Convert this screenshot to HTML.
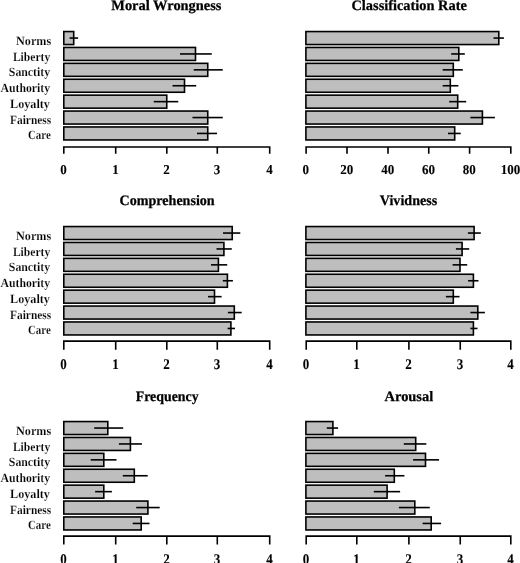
<!DOCTYPE html>
<html><head><meta charset="utf-8"><title>Figure</title>
<style>html,body{margin:0;padding:0;background:#fff}svg{display:block}text{font-family:"Liberation Serif","Times New Roman",serif;font-weight:bold;text-rendering:geometricPrecision;fill:#000;stroke:#fff;stroke-width:0.16px}text.t{stroke:#000;stroke-width:0.25px}text.n{stroke:#000;stroke-width:0.1px}</style></head><body>
<svg width="520" height="563" viewBox="0 0 520 563">
<rect width="520" height="563" fill="#fff"/>
<g>
<text class="t" x="111.30" y="9.60" font-size="14.4" textLength="110.20" lengthAdjust="spacingAndGlyphs">Moral Wrongness</text>
<rect x="63.80" y="31.55" width="9.90" height="13.00" fill="#bebebe" stroke="#000" stroke-width="1.6"/>
<line x1="69.60" y1="38.05" x2="78.10" y2="38.05" stroke="#000" stroke-width="1.6"/>
<text x="16.05" y="44.70" font-size="12.6" textLength="35.15" lengthAdjust="spacingAndGlyphs">Norms</text>
<rect x="63.80" y="47.45" width="131.70" height="13.00" fill="#bebebe" stroke="#000" stroke-width="1.6"/>
<line x1="180.00" y1="53.95" x2="211.75" y2="53.95" stroke="#000" stroke-width="1.6"/>
<text x="12.90" y="60.60" font-size="12.6" textLength="37.30" lengthAdjust="spacingAndGlyphs">Liberty</text>
<rect x="63.80" y="63.35" width="143.95" height="13.00" fill="#bebebe" stroke="#000" stroke-width="1.6"/>
<line x1="193.75" y1="69.85" x2="222.75" y2="69.85" stroke="#000" stroke-width="1.6"/>
<text x="8.80" y="76.20" font-size="12.6" textLength="41.40" lengthAdjust="spacingAndGlyphs">Sanctity</text>
<rect x="63.80" y="79.25" width="120.70" height="13.00" fill="#bebebe" stroke="#000" stroke-width="1.6"/>
<line x1="172.50" y1="85.75" x2="196.25" y2="85.75" stroke="#000" stroke-width="1.6"/>
<text x="0.40" y="91.80" font-size="12.6" textLength="49.80" lengthAdjust="spacingAndGlyphs">Authority</text>
<rect x="63.80" y="95.15" width="102.95" height="13.00" fill="#bebebe" stroke="#000" stroke-width="1.6"/>
<line x1="153.75" y1="101.65" x2="178.25" y2="101.65" stroke="#000" stroke-width="1.6"/>
<text x="10.05" y="108.10" font-size="12.6" textLength="39.90" lengthAdjust="spacingAndGlyphs">Loyalty</text>
<rect x="63.80" y="111.05" width="143.95" height="13.00" fill="#bebebe" stroke="#000" stroke-width="1.6"/>
<line x1="192.50" y1="117.55" x2="222.75" y2="117.55" stroke="#000" stroke-width="1.6"/>
<text x="10.05" y="123.50" font-size="12.6" textLength="41.15" lengthAdjust="spacingAndGlyphs">Fairness</text>
<rect x="63.80" y="126.95" width="143.95" height="13.00" fill="#bebebe" stroke="#000" stroke-width="1.6"/>
<line x1="197.00" y1="133.45" x2="217.00" y2="133.45" stroke="#000" stroke-width="1.6"/>
<text x="27.90" y="138.80" font-size="12.6" textLength="22.90" lengthAdjust="spacingAndGlyphs">Care</text>
<path d="M63.80 153.85V147.00H269.70V153.85M115.70 147.00V153.85M166.80 147.00V153.85M217.30 147.00V153.85" fill="none" stroke="#000" stroke-width="1.6" stroke-linejoin="miter"/>
<text class="n" x="60.25" y="173.60" font-size="13.6" textLength="6.50" lengthAdjust="spacingAndGlyphs">0</text>
<text class="n" x="112.15" y="173.60" font-size="13.6" textLength="6.50" lengthAdjust="spacingAndGlyphs">1</text>
<text class="n" x="163.25" y="173.60" font-size="13.6" textLength="6.50" lengthAdjust="spacingAndGlyphs">2</text>
<text class="n" x="213.75" y="173.60" font-size="13.6" textLength="6.50" lengthAdjust="spacingAndGlyphs">3</text>
<text class="n" x="266.15" y="173.60" font-size="13.6" textLength="6.50" lengthAdjust="spacingAndGlyphs">4</text>
</g>
<g>
<text class="t" x="351.50" y="9.60" font-size="14.4" textLength="115.30" lengthAdjust="spacingAndGlyphs">Classification Rate</text>
<rect x="305.90" y="31.55" width="192.90" height="13.00" fill="#bebebe" stroke="#000" stroke-width="1.6"/>
<line x1="493.50" y1="38.05" x2="503.90" y2="38.05" stroke="#000" stroke-width="1.6"/>
<rect x="305.90" y="47.45" width="152.90" height="13.00" fill="#bebebe" stroke="#000" stroke-width="1.6"/>
<line x1="451.20" y1="53.95" x2="464.80" y2="53.95" stroke="#000" stroke-width="1.6"/>
<rect x="305.90" y="63.35" width="147.40" height="13.00" fill="#bebebe" stroke="#000" stroke-width="1.6"/>
<line x1="442.70" y1="69.85" x2="462.80" y2="69.85" stroke="#000" stroke-width="1.6"/>
<rect x="305.90" y="79.25" width="144.40" height="13.00" fill="#bebebe" stroke="#000" stroke-width="1.6"/>
<line x1="442.70" y1="85.75" x2="458.40" y2="85.75" stroke="#000" stroke-width="1.6"/>
<rect x="305.90" y="95.15" width="151.80" height="13.00" fill="#bebebe" stroke="#000" stroke-width="1.6"/>
<line x1="449.20" y1="101.65" x2="466.20" y2="101.65" stroke="#000" stroke-width="1.6"/>
<rect x="305.90" y="111.05" width="176.50" height="13.00" fill="#bebebe" stroke="#000" stroke-width="1.6"/>
<line x1="470.40" y1="117.55" x2="494.90" y2="117.55" stroke="#000" stroke-width="1.6"/>
<rect x="305.90" y="126.95" width="148.80" height="13.00" fill="#bebebe" stroke="#000" stroke-width="1.6"/>
<line x1="448.00" y1="133.45" x2="460.70" y2="133.45" stroke="#000" stroke-width="1.6"/>
<path d="M306.10 153.85V147.00H510.80V153.85M347.00 147.00V153.85M388.00 147.00V153.85M428.75 147.00V153.85M469.60 147.00V153.85" fill="none" stroke="#000" stroke-width="1.6" stroke-linejoin="miter"/>
<text class="n" x="302.55" y="173.60" font-size="13.6" textLength="6.50" lengthAdjust="spacingAndGlyphs">0</text>
<text class="n" x="340.20" y="173.60" font-size="13.6" textLength="13.00" lengthAdjust="spacingAndGlyphs">20</text>
<text class="n" x="381.20" y="173.60" font-size="13.6" textLength="13.00" lengthAdjust="spacingAndGlyphs">40</text>
<text class="n" x="421.95" y="173.60" font-size="13.6" textLength="13.00" lengthAdjust="spacingAndGlyphs">60</text>
<text class="n" x="462.80" y="173.60" font-size="13.6" textLength="13.00" lengthAdjust="spacingAndGlyphs">80</text>
<text class="n" x="500.75" y="173.60" font-size="13.6" textLength="19.50" lengthAdjust="spacingAndGlyphs">100</text>
</g>
<g>
<text class="t" x="119.60" y="204.60" font-size="14.4" textLength="95.10" lengthAdjust="spacingAndGlyphs">Comprehension</text>
<rect x="63.80" y="226.55" width="168.40" height="13.00" fill="#bebebe" stroke="#000" stroke-width="1.6"/>
<line x1="223.00" y1="233.05" x2="240.30" y2="233.05" stroke="#000" stroke-width="1.6"/>
<text x="16.05" y="239.70" font-size="12.6" textLength="35.15" lengthAdjust="spacingAndGlyphs">Norms</text>
<rect x="63.80" y="242.45" width="160.10" height="13.00" fill="#bebebe" stroke="#000" stroke-width="1.6"/>
<line x1="216.50" y1="248.95" x2="231.80" y2="248.95" stroke="#000" stroke-width="1.6"/>
<text x="12.90" y="255.60" font-size="12.6" textLength="37.30" lengthAdjust="spacingAndGlyphs">Liberty</text>
<rect x="63.80" y="258.35" width="154.60" height="13.00" fill="#bebebe" stroke="#000" stroke-width="1.6"/>
<line x1="211.00" y1="264.85" x2="227.20" y2="264.85" stroke="#000" stroke-width="1.6"/>
<text x="8.80" y="271.20" font-size="12.6" textLength="41.40" lengthAdjust="spacingAndGlyphs">Sanctity</text>
<rect x="63.80" y="274.25" width="163.60" height="13.00" fill="#bebebe" stroke="#000" stroke-width="1.6"/>
<line x1="222.80" y1="280.75" x2="232.90" y2="280.75" stroke="#000" stroke-width="1.6"/>
<text x="0.40" y="286.80" font-size="12.6" textLength="49.80" lengthAdjust="spacingAndGlyphs">Authority</text>
<rect x="63.80" y="290.15" width="150.70" height="13.00" fill="#bebebe" stroke="#000" stroke-width="1.6"/>
<line x1="208.00" y1="296.65" x2="221.60" y2="296.65" stroke="#000" stroke-width="1.6"/>
<text x="10.05" y="303.10" font-size="12.6" textLength="39.90" lengthAdjust="spacingAndGlyphs">Loyalty</text>
<rect x="63.80" y="306.05" width="170.50" height="13.00" fill="#bebebe" stroke="#000" stroke-width="1.6"/>
<line x1="227.90" y1="312.55" x2="241.70" y2="312.55" stroke="#000" stroke-width="1.6"/>
<text x="10.05" y="318.50" font-size="12.6" textLength="41.15" lengthAdjust="spacingAndGlyphs">Fairness</text>
<rect x="63.80" y="321.95" width="167.10" height="13.00" fill="#bebebe" stroke="#000" stroke-width="1.6"/>
<line x1="227.60" y1="328.45" x2="235.00" y2="328.45" stroke="#000" stroke-width="1.6"/>
<text x="27.90" y="333.80" font-size="12.6" textLength="22.90" lengthAdjust="spacingAndGlyphs">Care</text>
<path d="M63.80 349.85V341.10H269.70V349.85M115.70 341.10V349.85M166.80 341.10V349.85M217.30 341.10V349.85" fill="none" stroke="#000" stroke-width="1.6" stroke-linejoin="miter"/>
<text class="n" x="60.25" y="368.50" font-size="14.8" textLength="6.50" lengthAdjust="spacingAndGlyphs">0</text>
<text class="n" x="112.15" y="368.50" font-size="14.8" textLength="6.50" lengthAdjust="spacingAndGlyphs">1</text>
<text class="n" x="163.25" y="368.50" font-size="14.8" textLength="6.50" lengthAdjust="spacingAndGlyphs">2</text>
<text class="n" x="213.75" y="368.50" font-size="14.8" textLength="6.50" lengthAdjust="spacingAndGlyphs">3</text>
<text class="n" x="266.15" y="368.50" font-size="14.8" textLength="6.50" lengthAdjust="spacingAndGlyphs">4</text>
</g>
<g>
<text class="t" x="379.80" y="204.60" font-size="14.4" textLength="57.40" lengthAdjust="spacingAndGlyphs">Vividness</text>
<rect x="305.90" y="226.55" width="168.20" height="13.00" fill="#bebebe" stroke="#000" stroke-width="1.6"/>
<line x1="467.90" y1="233.05" x2="480.80" y2="233.05" stroke="#000" stroke-width="1.6"/>
<rect x="305.90" y="242.45" width="156.20" height="13.00" fill="#bebebe" stroke="#000" stroke-width="1.6"/>
<line x1="455.90" y1="248.95" x2="469.20" y2="248.95" stroke="#000" stroke-width="1.6"/>
<rect x="305.90" y="258.35" width="154.10" height="13.00" fill="#bebebe" stroke="#000" stroke-width="1.6"/>
<line x1="452.60" y1="264.85" x2="467.20" y2="264.85" stroke="#000" stroke-width="1.6"/>
<rect x="305.90" y="274.25" width="167.50" height="13.00" fill="#bebebe" stroke="#000" stroke-width="1.6"/>
<line x1="468.10" y1="280.75" x2="478.50" y2="280.75" stroke="#000" stroke-width="1.6"/>
<rect x="305.90" y="290.15" width="147.40" height="13.00" fill="#bebebe" stroke="#000" stroke-width="1.6"/>
<line x1="445.90" y1="296.65" x2="459.50" y2="296.65" stroke="#000" stroke-width="1.6"/>
<rect x="305.90" y="306.05" width="171.90" height="13.00" fill="#bebebe" stroke="#000" stroke-width="1.6"/>
<line x1="470.40" y1="312.55" x2="484.90" y2="312.55" stroke="#000" stroke-width="1.6"/>
<rect x="305.90" y="321.95" width="167.50" height="13.00" fill="#bebebe" stroke="#000" stroke-width="1.6"/>
<line x1="470.40" y1="328.45" x2="477.50" y2="328.45" stroke="#000" stroke-width="1.6"/>
<path d="M306.20 349.85V341.10H510.80V349.85M356.80 341.10V349.85M408.90 341.10V349.85M460.25 341.10V349.85" fill="none" stroke="#000" stroke-width="1.6" stroke-linejoin="miter"/>
<text class="n" x="302.65" y="368.50" font-size="14.8" textLength="6.50" lengthAdjust="spacingAndGlyphs">0</text>
<text class="n" x="353.25" y="368.50" font-size="14.8" textLength="6.50" lengthAdjust="spacingAndGlyphs">1</text>
<text class="n" x="405.35" y="368.50" font-size="14.8" textLength="6.50" lengthAdjust="spacingAndGlyphs">2</text>
<text class="n" x="456.70" y="368.50" font-size="14.8" textLength="6.50" lengthAdjust="spacingAndGlyphs">3</text>
<text class="n" x="507.25" y="368.50" font-size="14.8" textLength="6.50" lengthAdjust="spacingAndGlyphs">4</text>
</g>
<g>
<text class="t" x="135.70" y="400.70" font-size="14.4" textLength="62.90" lengthAdjust="spacingAndGlyphs">Frequency</text>
<rect x="63.80" y="421.55" width="44.00" height="13.00" fill="#bebebe" stroke="#000" stroke-width="1.6"/>
<line x1="94.20" y1="428.05" x2="123.20" y2="428.05" stroke="#000" stroke-width="1.6"/>
<text x="16.05" y="434.70" font-size="12.6" textLength="35.15" lengthAdjust="spacingAndGlyphs">Norms</text>
<rect x="63.80" y="437.45" width="66.60" height="13.00" fill="#bebebe" stroke="#000" stroke-width="1.6"/>
<line x1="118.90" y1="443.95" x2="141.90" y2="443.95" stroke="#000" stroke-width="1.6"/>
<text x="12.90" y="450.60" font-size="12.6" textLength="37.30" lengthAdjust="spacingAndGlyphs">Liberty</text>
<rect x="63.80" y="453.35" width="40.00" height="13.00" fill="#bebebe" stroke="#000" stroke-width="1.6"/>
<line x1="90.70" y1="459.85" x2="116.50" y2="459.85" stroke="#000" stroke-width="1.6"/>
<text x="8.80" y="466.20" font-size="12.6" textLength="41.40" lengthAdjust="spacingAndGlyphs">Sanctity</text>
<rect x="63.80" y="469.25" width="70.50" height="13.00" fill="#bebebe" stroke="#000" stroke-width="1.6"/>
<line x1="122.80" y1="475.75" x2="147.70" y2="475.75" stroke="#000" stroke-width="1.6"/>
<text x="0.40" y="481.80" font-size="12.6" textLength="49.80" lengthAdjust="spacingAndGlyphs">Authority</text>
<rect x="63.80" y="485.15" width="40.00" height="13.00" fill="#bebebe" stroke="#000" stroke-width="1.6"/>
<line x1="95.10" y1="491.65" x2="111.90" y2="491.65" stroke="#000" stroke-width="1.6"/>
<text x="10.05" y="498.10" font-size="12.6" textLength="39.90" lengthAdjust="spacingAndGlyphs">Loyalty</text>
<rect x="63.80" y="501.05" width="84.10" height="13.00" fill="#bebebe" stroke="#000" stroke-width="1.6"/>
<line x1="136.20" y1="507.55" x2="159.70" y2="507.55" stroke="#000" stroke-width="1.6"/>
<text x="10.05" y="513.50" font-size="12.6" textLength="41.15" lengthAdjust="spacingAndGlyphs">Fairness</text>
<rect x="63.80" y="516.95" width="77.40" height="13.00" fill="#bebebe" stroke="#000" stroke-width="1.6"/>
<line x1="132.70" y1="523.45" x2="149.50" y2="523.45" stroke="#000" stroke-width="1.6"/>
<text x="27.90" y="528.80" font-size="12.6" textLength="22.90" lengthAdjust="spacingAndGlyphs">Care</text>
<path d="M63.80 544.60V536.10H269.70V544.60M115.70 536.10V544.60M166.80 536.10V544.60M217.30 536.10V544.60" fill="none" stroke="#000" stroke-width="1.6" stroke-linejoin="miter"/>
<text class="n" x="60.25" y="563.50" font-size="14.8" textLength="6.50" lengthAdjust="spacingAndGlyphs">0</text>
<text class="n" x="112.15" y="563.50" font-size="14.8" textLength="6.50" lengthAdjust="spacingAndGlyphs">1</text>
<text class="n" x="163.25" y="563.50" font-size="14.8" textLength="6.50" lengthAdjust="spacingAndGlyphs">2</text>
<text class="n" x="213.75" y="563.50" font-size="14.8" textLength="6.50" lengthAdjust="spacingAndGlyphs">3</text>
<text class="n" x="266.15" y="563.50" font-size="14.8" textLength="6.50" lengthAdjust="spacingAndGlyphs">4</text>
</g>
<g>
<text class="t" x="384.60" y="400.70" font-size="14.4" textLength="48.60" lengthAdjust="spacingAndGlyphs">Arousal</text>
<rect x="305.90" y="421.55" width="27.00" height="13.00" fill="#bebebe" stroke="#000" stroke-width="1.6"/>
<line x1="326.80" y1="428.05" x2="338.10" y2="428.05" stroke="#000" stroke-width="1.6"/>
<rect x="305.90" y="437.45" width="109.80" height="13.00" fill="#bebebe" stroke="#000" stroke-width="1.6"/>
<line x1="403.80" y1="443.95" x2="426.30" y2="443.95" stroke="#000" stroke-width="1.6"/>
<rect x="305.90" y="453.35" width="119.60" height="13.00" fill="#bebebe" stroke="#000" stroke-width="1.6"/>
<line x1="413.10" y1="459.85" x2="439.00" y2="459.85" stroke="#000" stroke-width="1.6"/>
<rect x="305.90" y="469.25" width="88.40" height="13.00" fill="#bebebe" stroke="#000" stroke-width="1.6"/>
<line x1="385.10" y1="475.75" x2="404.40" y2="475.75" stroke="#000" stroke-width="1.6"/>
<rect x="305.90" y="485.15" width="81.20" height="13.00" fill="#bebebe" stroke="#000" stroke-width="1.6"/>
<line x1="373.80" y1="491.65" x2="400.10" y2="491.65" stroke="#000" stroke-width="1.6"/>
<rect x="305.90" y="501.05" width="108.90" height="13.00" fill="#bebebe" stroke="#000" stroke-width="1.6"/>
<line x1="398.90" y1="507.55" x2="429.80" y2="507.55" stroke="#000" stroke-width="1.6"/>
<rect x="305.90" y="516.95" width="125.30" height="13.00" fill="#bebebe" stroke="#000" stroke-width="1.6"/>
<line x1="422.60" y1="523.45" x2="441.10" y2="523.45" stroke="#000" stroke-width="1.6"/>
<path d="M306.20 544.60V536.10H510.80V544.60M356.80 536.10V544.60M408.90 536.10V544.60M460.25 536.10V544.60" fill="none" stroke="#000" stroke-width="1.6" stroke-linejoin="miter"/>
<text class="n" x="302.65" y="563.50" font-size="14.8" textLength="6.50" lengthAdjust="spacingAndGlyphs">0</text>
<text class="n" x="353.25" y="563.50" font-size="14.8" textLength="6.50" lengthAdjust="spacingAndGlyphs">1</text>
<text class="n" x="405.35" y="563.50" font-size="14.8" textLength="6.50" lengthAdjust="spacingAndGlyphs">2</text>
<text class="n" x="456.70" y="563.50" font-size="14.8" textLength="6.50" lengthAdjust="spacingAndGlyphs">3</text>
<text class="n" x="507.25" y="563.50" font-size="14.8" textLength="6.50" lengthAdjust="spacingAndGlyphs">4</text>
</g>
</svg></body></html>
